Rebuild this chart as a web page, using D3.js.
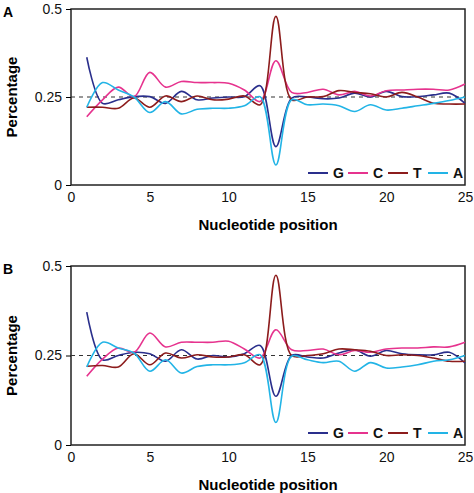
<!DOCTYPE html>
<html><head><meta charset="utf-8">
<script src="https://cdn.jsdelivr.net/npm/d3@7"></script>
<style>body{margin:0;background:#fff}text{font-family:Arial,"Liberation Sans",sans-serif}</style>
</head><body>
<script>
// data
const positions = d3.range(1, 26);
const seriesNames = ["G", "C", "T", "A"];
const colors = ["#2a2f8c", "#e6338e", "#8c1c1c", "#22b4e6"];
const xTicks = [0, 5, 10, 15, 20, 25];
const yTicks = [0, 0.25, 0.5];
const yTickLabels = ["0", "0.25", "0.5"];

const gA = [0.363,0.232,0.242,0.251,0.251,0.232,0.266,0.242,0.247,0.250,0.251,0.282,0.109,0.247,0.250,0.245,0.247,0.261,0.250,0.266,0.251,0.251,0.256,0.261,0.232];
const cA = [0.194,0.242,0.278,0.251,0.320,0.278,0.294,0.291,0.291,0.289,0.270,0.237,0.353,0.263,0.263,0.272,0.256,0.266,0.253,0.268,0.270,0.272,0.272,0.270,0.287];
const tA = [0.221,0.221,0.218,0.247,0.221,0.253,0.237,0.253,0.242,0.244,0.253,0.228,0.479,0.242,0.250,0.251,0.268,0.263,0.259,0.250,0.263,0.250,0.232,0.230,0.230];
const aA = [0.221,0.291,0.270,0.250,0.206,0.237,0.202,0.215,0.218,0.218,0.225,0.251,0.057,0.242,0.228,0.230,0.225,0.209,0.228,0.213,0.218,0.225,0.232,0.240,0.250];

const gB = [0.371,0.238,0.250,0.259,0.255,0.234,0.266,0.240,0.250,0.246,0.255,0.278,0.136,0.250,0.246,0.243,0.257,0.266,0.248,0.264,0.255,0.252,0.252,0.259,0.229];
const cB = [0.192,0.240,0.271,0.259,0.313,0.274,0.287,0.287,0.287,0.290,0.268,0.243,0.322,0.266,0.264,0.268,0.252,0.264,0.259,0.268,0.271,0.271,0.274,0.274,0.287];
const tB = [0.220,0.222,0.218,0.255,0.224,0.257,0.243,0.252,0.246,0.246,0.252,0.224,0.474,0.250,0.250,0.255,0.268,0.266,0.262,0.250,0.252,0.250,0.243,0.234,0.234];
const aB = [0.218,0.287,0.271,0.257,0.206,0.238,0.201,0.219,0.224,0.224,0.230,0.252,0.063,0.248,0.238,0.230,0.234,0.206,0.230,0.215,0.218,0.224,0.234,0.238,0.250];

const svg = d3.select("body").append("svg").attr("width", 474).attr("height", 493);

function panel(letter, top, bottom, series) {
    const x = d3.scaleLinear().domain([0, 25]).range([71, 465]);
    const y = d3.scaleLinear().domain([0, 0.5]).range([bottom, top]);
    const g = svg.append("g");

    //frame
    g.append("rect").attr("x", 71).attr("y", top).attr("width", 394).attr("height", bottom - top)
        .attr("fill", "none").attr("stroke", "#222").attr("stroke-width", 1.5);

    g.append("g").attr("transform", "translate(0," + bottom + ")")
        .call(d3.axisBottom(x).tickValues(xTicks).tickSize(0).tickPadding(7))
        .call(a => a.select(".domain").remove())
        .selectAll("text").attr("font-size", 14).attr("fill", "#111");
    g.append("g").attr("transform", "translate(71,0)")
        .call(d3.axisLeft(y).tickValues(yTicks).tickFormat((d, i) => yTickLabels[i]).tickSize(5).tickPadding(4))
        .call(a => a.select(".domain").remove())
        .selectAll("text").attr("font-size", 14).attr("fill", "#111");

    //reference line at 0.25
    g.append("line").attr("x1", 71).attr("x2", 465).attr("y1", y(0.25)).attr("y2", y(0.25))
        .attr("stroke", "#333").attr("stroke-dasharray", "4,4").attr("stroke-width", 1.2);

    const line = d3.line().x((d, i) => x(positions[i])).y(d => y(d)).curve(d3.curveCatmullRom);
    series.forEach((s, k) => {
        g.append("path").attr("d", line(s)).attr("fill", "none")
            .attr("stroke", colors[k]).attr("stroke-width", 1.6);
    });

    //legend
    const ly = bottom - 12;
    seriesNames.forEach((n, k) => {
        const lx = 308 + k * 40;
        g.append("line").attr("x1", lx).attr("x2", lx + 20).attr("y1", ly).attr("y2", ly)
            .attr("stroke", colors[k]).attr("stroke-width", 2);
        g.append("text").attr("x", lx + 25).attr("y", ly + 5).attr("font-size", 14)
            .attr("font-weight", "bold").attr("fill", "#111").text(n);
    });

    g.append("text").attr("x", 268).attr("y", bottom + 45).attr("text-anchor", "middle")
        .attr("font-size", 15).attr("font-weight", "bold").text("Nucleotide position");
    g.append("text").attr("transform", "translate(17," + ((top + bottom) / 2) + ") rotate(-90)")
        .attr("text-anchor", "middle").attr("font-size", 15).attr("font-weight", "bold").text("Percentage");
    g.append("text").attr("x", 3).attr("y", top + 8).attr("font-size", 14)
        .attr("font-weight", "bold").text(letter);
}

panel("A", 9, 185, [gA, cA, tA, aA]);
panel("B", 266, 445, [gB, cB, tB, aB]);
</script>
</body></html>
